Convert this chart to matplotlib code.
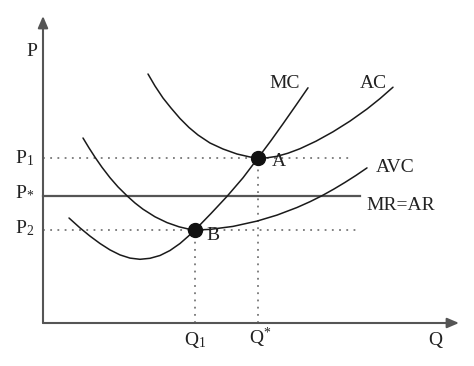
import matplotlib
matplotlib.use("Agg")
import matplotlib.pyplot as plt

plt.rcParams['font.family'] = ['Liberation Serif', 'DejaVu Serif']
plt.rcParams['mathtext.fontset'] = 'custom'
plt.rcParams['mathtext.rm'] = 'Liberation Serif'
plt.rcParams['mathtext.it'] = 'Liberation Serif'

# Curve data (quantity Q, price P in arbitrary diagram units)
mc_q = [26, 37, 47, 57, 67, 77, 87, 97, 107, 117, 127, 137, 145, 152,
        168, 184, 200, 215, 228, 240, 253, 265]
mc_p = [105, 95.1, 86.9, 79.5, 73.1, 68.1, 64.9, 63.7, 64.7, 67.5, 72.5, 79.5, 86.5, 93,
        109.5, 126.6, 145.2, 165, 182.4, 199.2, 217.8, 235.2]

ac_q = [105, 112, 120, 128, 137, 146, 155, 167, 180, 194, 207, 215,
        224, 234, 245, 257, 273, 290, 307, 324, 337, 350]
ac_p = [249, 237, 225, 215, 204.5, 195.5, 188, 180, 174, 169, 166, 165,
        165.2, 166.7, 169.8, 174.3, 181.8, 191.2, 201.9, 214, 224.4, 235.8]

avc_q = [40, 46, 52, 59, 67, 75, 84, 92, 100, 112, 124, 136, 147, 152,
         167, 190, 214, 234, 254, 267, 279, 291, 302, 313, 324]
avc_p = [185, 175.1, 165.8, 155.7, 145.3, 136.1, 127.2, 120.0, 113.8, 106.2, 100.4, 96.2, 93.6, 93.0,
         93.6, 96.6, 101.9, 107.9, 115.5, 121.3, 127.3, 134.0, 140.6, 147.6, 155.1]

p1, p_star, p2 = 165, 127, 93
q1, q_star = 152, 215
mr_end = 317
p1_end, p2_end = 309, 315

fig = plt.figure(figsize=(4.74, 3.66), dpi=100)
ax = fig.add_axes([0, 0, 1, 1])
ax.set_xlim(-43, 431)
ax.set_ylim(-43, 323)
ax.axis('off')

axis_col = '#555555'
txt_col = '#222222'
dot_col = '#777777'

# axes with arrows
ax.annotate('', xy=(0, 307), xytext=(0, 0),
            arrowprops=dict(arrowstyle='-|>,head_length=0.7,head_width=0.3',
                            color=axis_col, lw=1.5, shrinkA=0, shrinkB=0))
ax.annotate('', xy=(416, 0), xytext=(0, 0),
            arrowprops=dict(arrowstyle='-|>,head_length=0.7,head_width=0.3',
                            color=axis_col, lw=1.5, shrinkA=0, shrinkB=0))

# dotted guide lines
dot_style = dict(color=dot_col, lw=1.3, linestyle=(0, (1, 3)))
ax.plot([0, p1_end], [p1, p1], **dot_style)
ax.plot([0, p2_end], [p2, p2], **dot_style)
ax.plot([q1, q1], [0, p2], **dot_style)
ax.plot([q_star, q_star], [0, p1], **dot_style)

# MR = AR
ax.plot([0, mr_end], [p_star, p_star], color=axis_col, lw=1.6)

# cost curves
curve_style = dict(color='#1a1a1a', lw=1.1, solid_joinstyle='round', solid_capstyle='round')
ax.plot(mc_q, mc_p, **curve_style)
ax.plot(ac_q, ac_p, **curve_style)
ax.plot(avc_q, avc_p, **curve_style)

# points A and B
ax.plot([q_star, q1], [p1, p2], 'o', color='#111111', markersize=10, zorder=5)

fs = 14
ax.text(-11, 271, 'P', fontsize=fs, color=txt_col, ha='center', va='center')
ax.text(-18, p1, r'P$_{1}$', fontsize=fs, color=txt_col, ha='center', va='center')
ax.text(-18, p_star + 5, r'P$_{*}$', fontsize=fs, color=txt_col, ha='center', va='center')
ax.text(-18, p2 + 2, r'P$_{2}$', fontsize=fs, color=txt_col, ha='center', va='center')
ax.text(q1, -17, r'Q$_{1}$', fontsize=fs, color=txt_col, ha='center', va='center')
ax.text(q_star + 2, -15, r'Q$^{*}$', fontsize=fs, color=txt_col, ha='center', va='center')
ax.text(392, -17, 'Q', fontsize=fs, color=txt_col, ha='center', va='center')
ax.text(242, 240, 'MC', fontsize=fs, color=txt_col, ha='center', va='center')
ax.text(330, 240, 'AC', fontsize=fs, color=txt_col, ha='center', va='center')
ax.text(352, 156, 'AVC', fontsize=fs, color=txt_col, ha='center', va='center')
ax.text(358, 117, 'MR=AR', fontsize=fs, color=txt_col, ha='center', va='center')
ax.text(236, 161, 'A', fontsize=fs, color=txt_col, ha='center', va='center')
ax.text(170, 87, 'B', fontsize=fs, color=txt_col, ha='center', va='center')

fig.savefig('out.png', dpi=100)
